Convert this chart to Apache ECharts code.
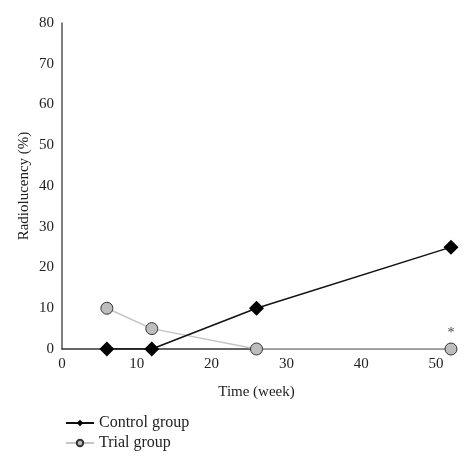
<!DOCTYPE html>
<html><head><meta charset="utf-8">
<script src="https://cdn.jsdelivr.net/npm/echarts@6/dist/echarts.min.js"></script>
<style>html,body{margin:0;padding:0;background:#fff}#c{width:474px;height:467px}</style>
</head><body><div id="c"></div>
<script>
const weeks = [6, 12, 26, 52];
const controlValues = [0, 0, 10, 25];
const trialValues = [10, 5, 0, 0];
const xTicks = [0, 10, 20, 30, 40, 50];
const yTicks = [0, 10, 20, 30, 40, 50, 60, 70, 80];
const seriesNames = ['Control group', 'Trial group'];
const trialMarks = ['', '', '', '*'];

const font = 'Liberation Serif, DejaVu Serif, serif';
const chart = echarts.init(document.getElementById('c'));
chart.setOption({
  animation: false,
  textStyle: { fontFamily: font },
  grid: { left: 62, right: 23, top: 23, bottom: 118, containLabel: false },
  xAxis: {
    type: 'value', min: 0, max: 52, interval: 10,
    name: 'Time (week)', nameLocation: 'middle', nameGap: 36, nameMoveOverlap: false,
    nameTextStyle: { fontFamily: font, fontSize: 15, color: '#222' },
    axisLine: { show: true, lineStyle: { color: '#333', width: 1.5 } },
    axisTick: { show: false },
    splitLine: { show: false },
    axisLabel: { fontFamily: font, fontSize: 15, color: '#222', margin: 8,
      showMaxLabel: false,
      formatter: v => xTicks.includes(v) ? String(v) : '' }
  },
  yAxis: {
    type: 'value', min: 0, max: 80, interval: 10,
    name: 'Radiolucency (%)', nameLocation: 'middle', nameGap: 30, nameMoveOverlap: false,
    nameTextStyle: { fontFamily: font, fontSize: 15, color: '#222' },
    axisLine: { show: true, lineStyle: { color: '#555', width: 1.5 } },
    axisTick: { show: false },
    splitLine: { show: false },
    axisLabel: { fontFamily: font, fontSize: 15, color: '#222', margin: 8,
      formatter: v => yTicks.includes(v) ? String(v) : '' }
  },
  legend: {
    orient: 'vertical', left: 60, top: 410, itemWidth: 28, itemHeight: 8, itemGap: 4,
    textStyle: { fontFamily: font, fontSize: 16, color: '#222' },
    data: seriesNames
  },
  series: [
    {
      name: seriesNames[1], type: 'line',
      data: weeks.map((w, i) => ({ value: [w, trialValues[i]],
        label: { show: trialMarks[i] !== '', formatter: trialMarks[i], position: 'top', distance: 2,
          fontFamily: font, fontSize: 14, color: '#444' } })),
      symbol: 'circle', symbolSize: 12,
      lineStyle: { color: '#c4c4c4', width: 1.5 },
      itemStyle: { color: '#bdbdbd', borderColor: '#333', borderWidth: 1 },
      z: 2
    },
    {
      name: seriesNames[0], type: 'line',
      data: weeks.map((w, i) => [w, controlValues[i]]),
      symbol: 'diamond', symbolSize: 15,
      lineStyle: { color: '#111', width: 1.5 },
      itemStyle: { color: '#000' },
      z: 3
    }
  ]
});
</script></body></html>
